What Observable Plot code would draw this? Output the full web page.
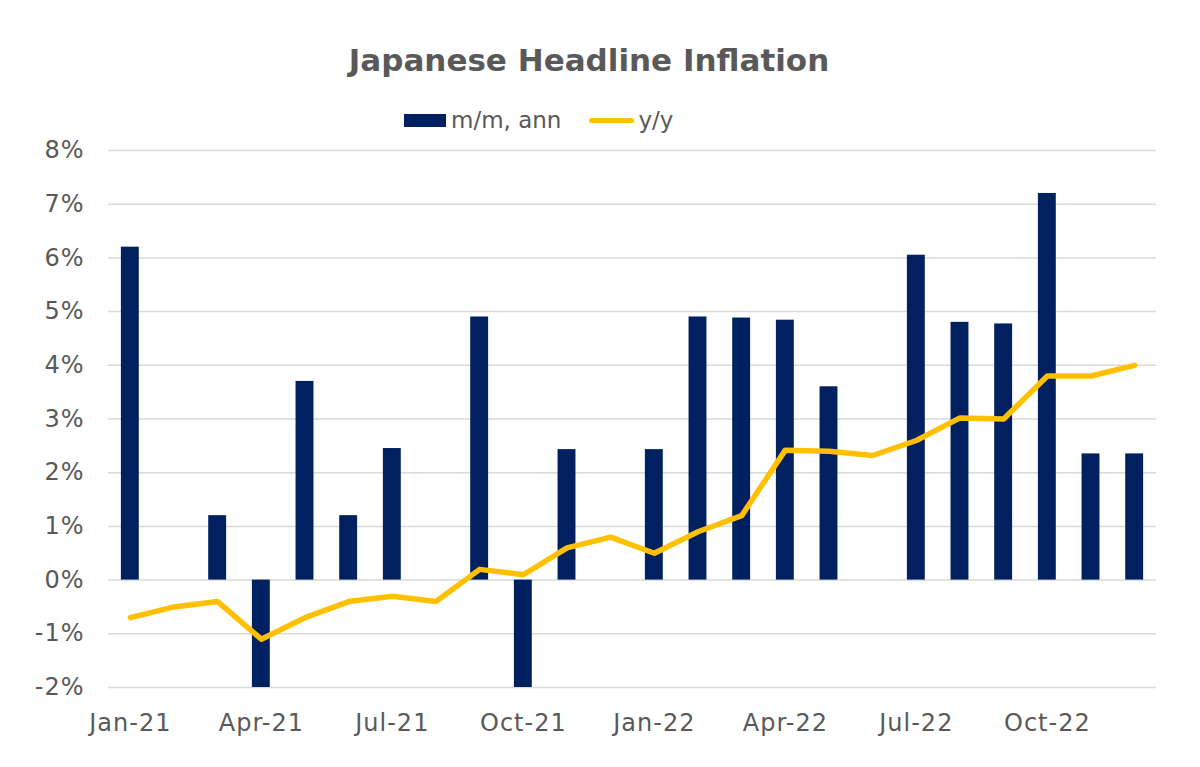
<!DOCTYPE html>
<html>
<head>
<meta charset="utf-8">
<script src="https://cdn.jsdelivr.net/npm/d3@7"></script>
<script src="https://cdn.jsdelivr.net/npm/@observablehq/plot@0.6"></script>
<style>
  html, body { margin: 0; padding: 0; background: #ffffff; }
  #wrap { width: 1200px; height: 767px; position: relative; overflow: hidden; font-family: "DejaVu Sans", Verdana, sans-serif; color: #595959; }
  #title { position: absolute; top: 40px; left: 0; width: 1178px; height: 40px; line-height: 40px; text-align: center; font-size: 31px; font-weight: bold; color: #595959; }
  #legend { position: absolute; top: 106px; left: 404px; height: 28px; display: flex; align-items: center; font-size: 23px; color: #595959; white-space: nowrap; }
  .sw-bar { display: inline-block; width: 42px; height: 13px; background: #002060; margin-right: 5px; }
  .sw-line { display: inline-block; width: 45px; height: 5px; border-radius: 3px; background: #FFC000; margin-left: 28px; margin-right: 4px; }
  #chart { position: absolute; top: 134px; left: 0; }
  #chart svg text { letter-spacing: 1px; }
</style>
</head>
<body>
<div id="wrap">
  <div id="title">Japanese Headline Inflation</div>
  <div id="legend"><span class="sw-bar"></span><span>m/m, ann</span><span class="sw-line"></span><span>y/y</span></div>
  <div id="chart"></div>
</div>
<script>
// Monthly categories, Jan 2021 – Dec 2022
const months = [
  "Jan-21", "Feb-21", "Mar-21", "Apr-21", "May-21", "Jun-21",
  "Jul-21", "Aug-21", "Sep-21", "Oct-21", "Nov-21", "Dec-21",
  "Jan-22", "Feb-22", "Mar-22", "Apr-22", "May-22", "Jun-22",
  "Jul-22", "Aug-22", "Sep-22", "Oct-22", "Nov-22", "Dec-22"
];

// Month-on-month change, annualised (%)
const mmAnn = [
  6.2, 0, 1.2, -2.4, 3.7, 1.2,
  2.45, 0, 4.9, -2.4, 2.43, 0,
  2.43, 4.9, 4.88, 4.84, 3.6, 0,
  6.05, 4.8, 4.77, 7.2, 2.35, 2.35
];

// Year-on-year change (%)
const yoy = [
  -0.7, -0.5, -0.4, -1.1, -0.7, -0.4,
  -0.3, -0.4, 0.2, 0.1, 0.6, 0.8,
  0.5, 0.9, 1.2, 2.42, 2.4, 2.32,
  2.6, 3.02, 3.0, 3.8, 3.8, 4.0
];

// Axis ticks
const xTickLabels = ["Jan-21", "Apr-21", "Jul-21", "Oct-21", "Jan-22", "Apr-22", "Jul-22", "Oct-22"];
const yTicks = [-2, -1, 0, 1, 2, 3, 4, 5, 6, 7, 8];

const rows = months.map((month, i) => ({ month, mm: mmAnn[i], yy: yoy[i] }));

const chart = Plot.plot({
  width: 1200,
  height: 633,
  marginTop: 16,
  marginLeft: 108,
  marginRight: 44,
  marginBottom: 80,
  style: { fontFamily: "DejaVu Sans, Verdana, sans-serif", fontSize: "24px", color: "#595959", background: "#ffffff" },
  x: {
    domain: months,
    paddingInner: 0.59,
    paddingOuter: 0.295,
    round: false,
    ticks: xTickLabels,
    tickSize: 0,
    tickPadding: 26,
    label: null
  },
  y: {
    domain: [-2, 8],
    ticks: yTicks,
    tickFormat: d => d + "%",
    tickSize: 0,
    tickPadding: 24,
    label: null
  },
  marks: [
    Plot.ruleY(yTicks, { stroke: "#d9d9d9", strokeWidth: 1.5 }),
    Plot.barY(rows, { x: "month", y: "mm", fill: "#002060", clip: true }),
    Plot.lineY(rows, {
      x: "month", y: "yy",
      stroke: "#FFC000", strokeWidth: 5.5,
      strokeLinecap: "round", strokeLinejoin: "round"
    })
  ]
});

document.getElementById("chart").appendChild(chart);
</script>
</body>
</html>
